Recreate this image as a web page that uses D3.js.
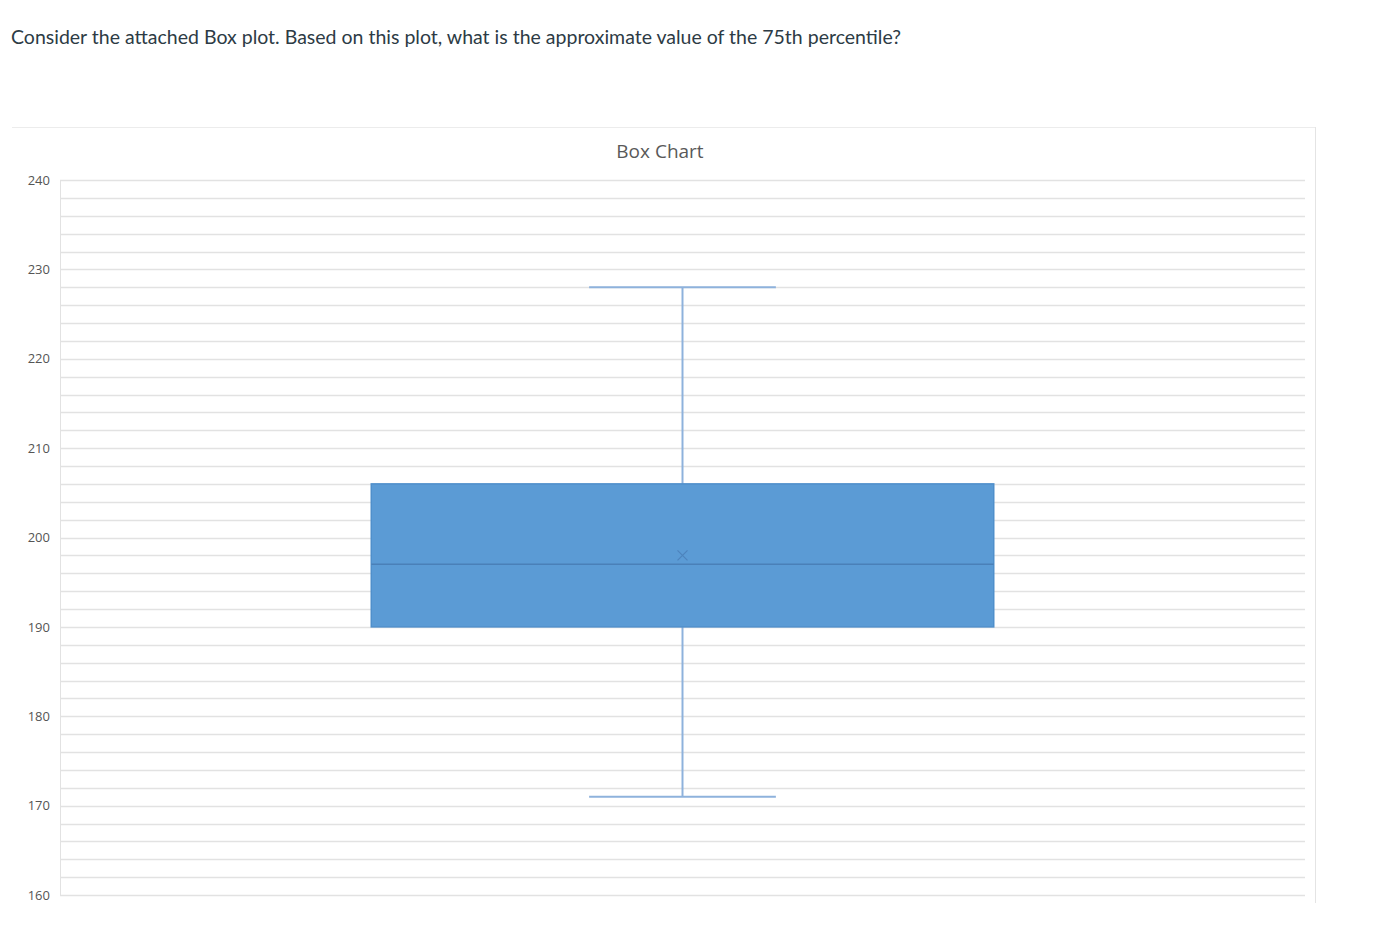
<!DOCTYPE html>
<html>
<head>
<meta charset="utf-8">
<script src="https://cdn.jsdelivr.net/npm/d3@7"></script>
<style>
  body { margin: 0; background: #fff; }
  svg text { fill: #595959; }
</style>
</head>
<body>
<div id="chart"></div>
<script>
// question + chart data
var questionText = "Consider the attached Box plot. Based on this plot, what is the approximate value of the 75th percentile?";
var chartTitle = "Box Chart";
var yTicks = [160, 170, 180, 190, 200, 210, 220, 230, 240];
var gridValues = d3.range(160, 241, 2);
var categories = ["Series 1"];
var whiskerLow = [171];
var q1 = [190];
var median = [197];
var meanVal = [198];
var q3 = [206];
var whiskerHigh = [228];

var width = 1394, height = 929;
var margin = ({top: 180, right: 89, bottom: 34, left: 60});

var svg = d3.select('#chart')
  .append('svg')
    .attr('width', width)
    .attr('height', height);

svg.append('text')
  .attr('x', 11)
  .attr('y', 44)
  .attr('font-family', 'Lato, sans-serif')
  .attr('font-size', '19.5px')
  .style('fill', '#2d3b45')
  .text(questionText);

// chart frame (only top and right edges show)
svg.append('line')
  .attr('x1', 12).attr('x2', 1315).attr('y1', 127.5).attr('y2', 127.5)
  .attr('stroke', '#ececec');
svg.append('line')
  .attr('x1', 1315.5).attr('x2', 1315.5).attr('y1', 127).attr('y2', 903)
  .attr('stroke', '#e4e4e4');

var y = d3.scaleLinear()
  .domain([160, 240])
  .range([height - margin.bottom, margin.top]);

var x = d3.scaleBand()
  .domain(categories)
  .range([margin.left, 1305])
  .paddingInner(0)
  .paddingOuter(0.5);

// gridlines
svg.append('g')
  .selectAll('line')
  .data(gridValues)
  .join('line')
    .attr('x1', margin.left)
    .attr('x2', 1305)
    .attr('y1', d => Math.round(y(d)) + 0.5)
    .attr('y2', d => Math.round(y(d)) + 0.5)
    .attr('stroke', '#e2e2e2')
    .attr('stroke-width', 1.5);

svg.append('line')
  .attr('x1', margin.left + 0.5).attr('x2', margin.left + 0.5)
  .attr('y1', y(240)).attr('y2', y(160))
  .attr('stroke', '#e2e2e2');

// y axis labels
var yAxis = svg.append('g')
  .attr('transform', `translate(${margin.left}, 0)`)
  .call(d3.axisLeft(y).tickValues(yTicks).tickSize(0).tickPadding(10));
yAxis.select('.domain').remove();
yAxis.selectAll('text')
  .attr('font-family', '"Open Sans", sans-serif')
  .attr('font-size', '13px')
  .style('fill', '#555');

svg.append('text')
  .attr('x', 660)
  .attr('y', 158)
  .attr('text-anchor', 'middle')
  .attr('font-family', '"Open Sans", sans-serif')
  .attr('font-size', '19px')
  .text(chartTitle);

var boxes = categories.map((c, i) => ({
  cat: c, lo: whiskerLow[i], q1: q1[i], med: median[i],
  mean: meanVal[i], q3: q3[i], hi: whiskerHigh[i]
}));

var g = svg.append('g').selectAll('g').data(boxes).join('g');
var cx = d => x(d.cat) + x.bandwidth() / 2;

// whiskers
g.append('line')
  .attr('x1', d => cx(d)).attr('x2', d => cx(d))
  .attr('y1', d => y(d.hi)).attr('y2', d => y(d.q3))
  .attr('stroke', '#8eb2dc').attr('stroke-width', 2);
g.append('line')
  .attr('x1', d => cx(d)).attr('x2', d => cx(d))
  .attr('y1', d => y(d.q1)).attr('y2', d => y(d.lo))
  .attr('stroke', '#8eb2dc').attr('stroke-width', 2);
[ 'hi', 'lo' ].forEach(k => {
  g.append('line')
    .attr('x1', d => cx(d) - x.bandwidth() * 0.15)
    .attr('x2', d => cx(d) + x.bandwidth() * 0.15)
    .attr('y1', d => y(d[k])).attr('y2', d => y(d[k]))
    .attr('stroke', '#8eb2dc').attr('stroke-width', 2);
});

// box
g.append('rect')
  .attr('x', d => x(d.cat))
  .attr('width', x.bandwidth())
  .attr('y', d => y(d.q3))
  .attr('height', d => y(d.q1) - y(d.q3))
  .attr('fill', '#5b9bd5')
  .attr('stroke', '#4f8fcb')
  .attr('stroke-width', 1.5);

// median
g.append('line')
  .attr('x1', d => x(d.cat)).attr('x2', d => x(d.cat) + x.bandwidth())
  .attr('y1', d => y(d.med)).attr('y2', d => y(d.med))
  .attr('stroke', '#4a80b8').attr('stroke-width', 1.5);

// mean marker
g.append('path')
  .attr('d', d => {
    var px = cx(d), py = y(d.mean), s = 5;
    return `M${px - s},${py - s}L${px + s},${py + s}M${px - s},${py + s}L${px + s},${py - s}`;
  })
  .attr('stroke', '#4d84bd')
  .attr('stroke-width', 1.2)
  .attr('fill', 'none');
</script>
</body>
</html>
